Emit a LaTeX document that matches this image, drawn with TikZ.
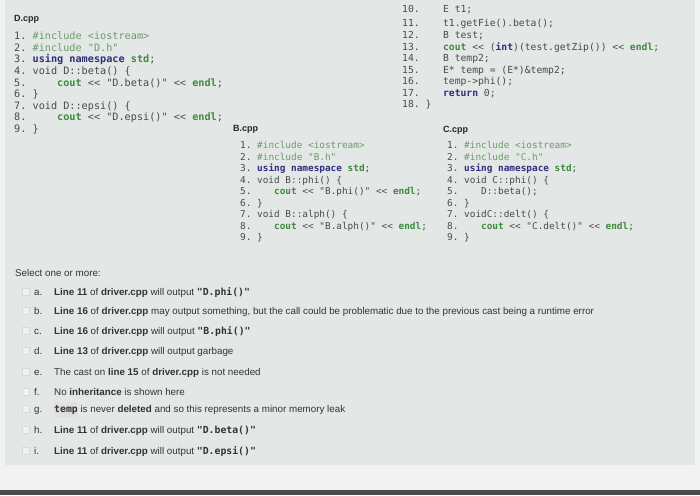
\documentclass[tikz,border=0pt]{standalone}
\usepackage{fontspec}
\setmainfont{Liberation Sans}
\setmonofont{DejaVu Sans Mono}
\definecolor{panel}{HTML}{E3E7E5}
\definecolor{outer}{HTML}{F2F3F1}
\definecolor{codegray}{HTML}{4A4A4A}
\definecolor{incl}{HTML}{6E9A6E}
\definecolor{kwc}{HTML}{2E2E7A}
\definecolor{grn}{HTML}{3F8A3F}
\newcommand{\kw}[1]{\textcolor{kwc}{\bfseries #1}}
\newcommand{\gn}[1]{\textcolor{grn}{\bfseries #1}}
\newcommand{\inc}[1]{\textcolor{incl}{#1}}
\tikzset{
 code/.style={anchor=base west,inner sep=0pt,font=\ttfamily\fontsize{9.4}{10}\selectfont,text=codegray},
 dcode/.style={code,font=\ttfamily\fontsize{10.2}{11}\selectfont},
 rcode/.style={code,font=\ttfamily\fontsize{9.7}{11}\selectfont},
 ttl/.style={anchor=base west,inner sep=0pt,font=\bfseries\fontsize{9}{10}\selectfont,text=black!85},
 opt/.style={anchor=base west,inner sep=0pt,font=\fontsize{9.8}{11}\selectfont,text=black!80},
 box/.style={draw=black!15,fill=black!5,minimum size=7pt,inner sep=0pt}
}
\newcommand{\cd}[1]{\texttt{\bfseries #1}}
\begin{document}
\begin{tikzpicture}[x=1pt,y=-1pt]
\useasboundingbox (0,0) rectangle (700,495);
\fill[outer] (0,0) rectangle (700,495);
\fill[panel] (5,0) rectangle (695,465);
\fill[black!70] (0,490) rectangle (700,495);
% D.cpp
\node[ttl] (dt) at (14,22) {D.cpp};
\node[dcode] (d1) at (14,40) {1. \inc{\#include <iostream>}};
\node[dcode] (d2) at (14,51.5) {2. \inc{\#include "D.h"}};
\node[dcode] (d3) at (14,63) {3. \kw{using namespace} \gn{std};};
\node[dcode] (d4) at (14,74.5) {4. void D::beta() \{};
\node[dcode] (d5) at (14,86) {5.~~~~~\gn{cout} << "D.beta()" << \gn{endl};};
\node[dcode] (d6) at (14,97.5) {6. \}};
\node[dcode] (d7) at (14,109) {7. void D::epsi() \{};
\node[dcode] (d8) at (14,120.5) {8.~~~~~\gn{cout} << "D.epsi()" << \gn{endl};};
\node[dcode] (d9) at (14,132) {9. \}};
% driver right block
\node[rcode] (r10) at (402,13) {10.~~~~E t1;};
\node[rcode] (r11) at (402,27) {11.~~~~t1.getFie().beta();};
\node[rcode] (r12) at (402,38.5) {12.~~~~B test;};
\node[rcode] (r13) at (402,50) {13.~~~~\gn{cout} << (\kw{int})(test.getZip()) << \gn{endl};};
\node[rcode] (r14) at (402,61.5) {14.~~~~B temp2;};
\node[rcode] (r15) at (402,73) {15.~~~~E* temp = (E*)\&temp2;};
\node[rcode] (r16) at (402,84.5) {16.~~~~temp->phi();};
\node[rcode] (r17) at (402,96) {17.~~~~\kw{return} 0;};
\node[rcode] (r18) at (402,107.5) {18. \}};
% B.cpp
\node[ttl] (bt) at (233,131) {B.cpp};
\node[code] (b1) at (240,148.5) {1. \inc{\#include <iostream>}};
\node[code] (b2) at (240,160) {2. \inc{\#include "B.h"}};
\node[code] (b3) at (240,171.5) {3. \kw{using namespace} \gn{std};};
\node[code] (b4) at (240,183) {4. void B::phi() \{};
\node[code] (b5) at (240,194.5) {5.~~~~\gn{cout} << "B.phi()" << \gn{endl};};
\node[code] (b6) at (240,206) {6. \}};
\node[code] (b7) at (240,217.5) {7. void B::alph() \{};
\node[code] (b8) at (240,229) {8.~~~~\gn{cout} << "B.alph()" << \gn{endl};};
\node[code] (b9) at (240,240.5) {9. \}};
% C.cpp
\node[ttl] (ct) at (443,132) {C.cpp};
\node[code] (c1) at (447,148.5) {1. \inc{\#include <iostream>}};
\node[code] (c2) at (447,160) {2. \inc{\#include "C.h"}};
\node[code] (c3) at (447,171.5) {3. \kw{using namespace} \gn{std};};
\node[code] (c4) at (447,183) {4. void C::phi() \{};
\node[code] (c5) at (447,194.5) {5.~~~~D::beta();};
\node[code] (c6) at (447,206) {6. \}};
\node[code] (c7) at (447,217.5) {7. voidC::delt() \{};
\node[code] (c8) at (447,229) {8.~~~~\gn{cout} << "C.delt()" << \gn{endl};};
\node[code] (c9) at (447,240.5) {9. \}};
% options
\node[opt] (sel) at (15,276) {Select one or more:};
\foreach \y/\l [count=\i] in {295/a,314/b,334/c,354/d,375/e,395/f,412/g,433/h,454/i}{
  \node[box] (bx\i) at (26,\y-3.5) {};
  \node[opt] (lt\i) at (34,\y) {\l.};
}
\node[opt] (oa) at (54,295) {\textbf{Line 11} of \textbf{driver.cpp} will output \cd{"D.phi()"}};
\node[opt] (ob) at (54,314) {\textbf{Line 16} of \textbf{driver.cpp} may output something, but the call could be problematic due to the previous cast being a runtime error};
\node[opt] (oc) at (54,334) {\textbf{Line 16} of \textbf{driver.cpp} will output \cd{"B.phi()"}};
\node[opt] (od) at (54,354) {\textbf{Line 13} of \textbf{driver.cpp} will output garbage};
\node[opt] (oe) at (54,375) {The cast on \textbf{line 15} of \textbf{driver.cpp} is not needed};
\node[opt] (of) at (54,395) {No \textbf{inheritance} is shown here};
\node[opt] (og) at (54,412) {\colorbox{black!12}{\hspace{-3pt}\cd{temp}\hspace{-3pt}} is never \textbf{deleted} and so this represents a minor memory leak};
\node[opt] (oh) at (54,433) {\textbf{Line 11} of \textbf{driver.cpp} will output \cd{"D.beta()"}};
\node[opt] (oi) at (54,454) {\textbf{Line 11} of \textbf{driver.cpp} will output \cd{"D.epsi()"}};
\end{tikzpicture}
\end{document}
